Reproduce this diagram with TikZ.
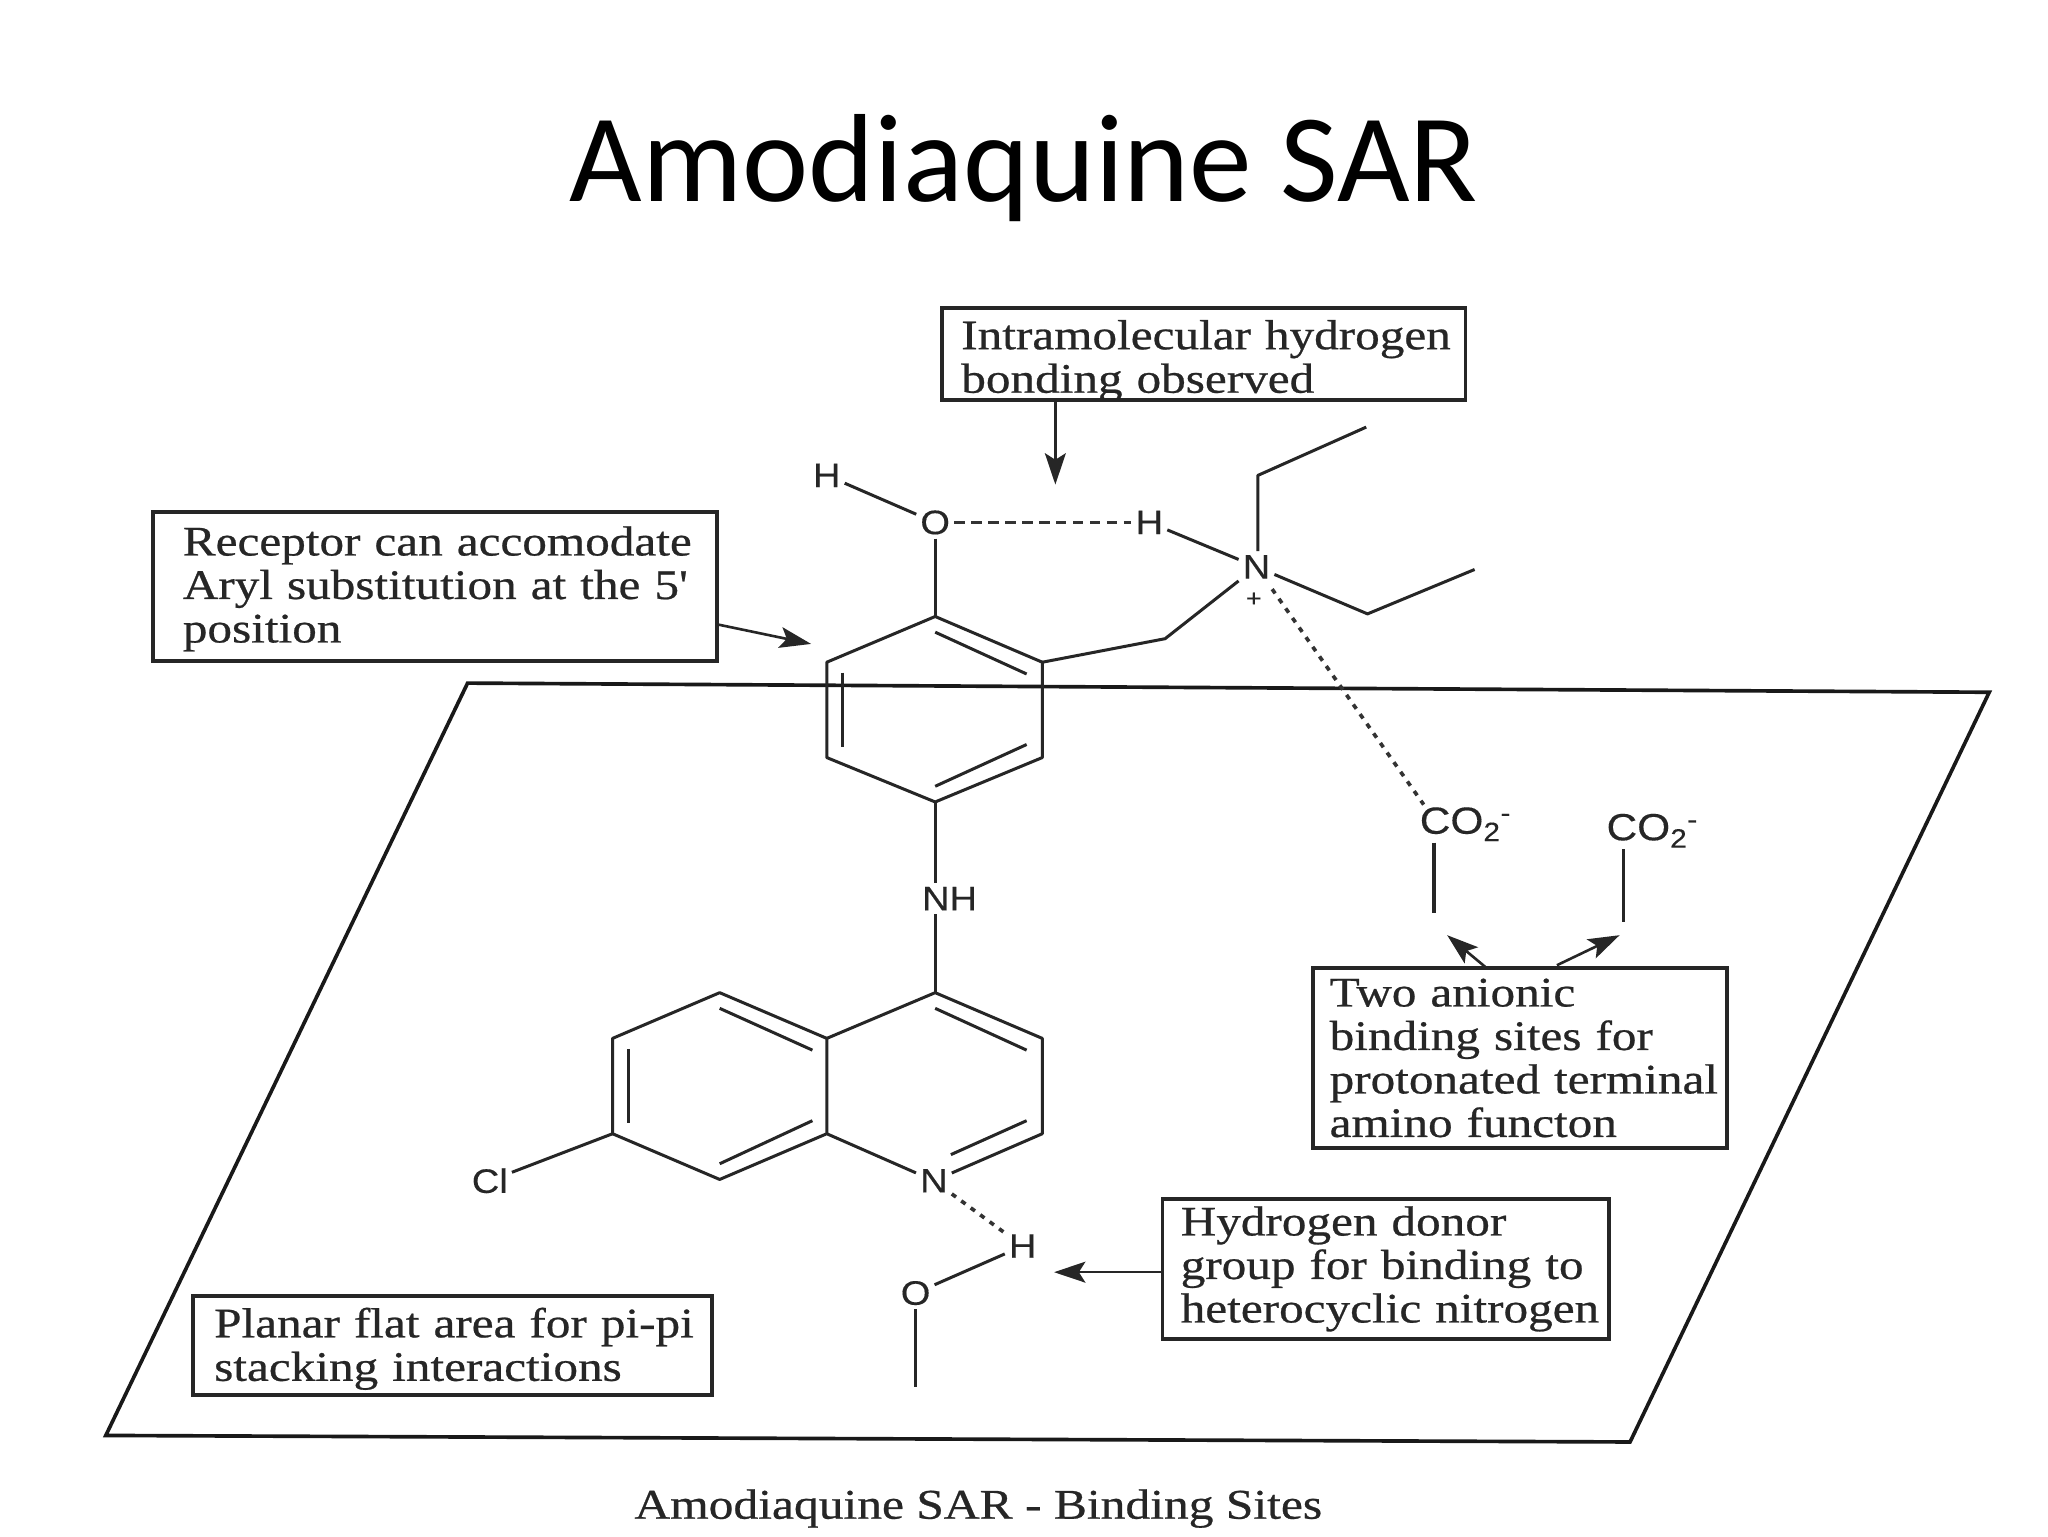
\documentclass[tikz,border=0pt]{standalone}
\usepackage{fontspec}
\usetikzlibrary{arrows.meta,calc}
\setmainfont{Liberation Serif}
\newfontfamily\titlefont{Carlito}
\newfontfamily\boxfont[FakeStretch=1.17,FakeBold=0.6]{Liberation Serif}
\newfontfamily\atomfont[FakeStretch=1.12,FakeBold=0.3]{Liberation Sans}
\newcommand{\firstline}[2]{\hspace*{#1pt}\rule{0pt}{#2pt}}
\newcommand{\ind}[1]{\hspace*{#1pt}}
\tikzset{
  x=1pt,y=-1pt,
  bond/.style={line width=2.3pt,draw=black!85},
  hbond/.style={line width=3pt,draw=black!80,dash pattern=on 8pt off 5pt},
  dotbond/.style={line width=2.8pt,draw=black!80,dash pattern=on 4pt off 5pt},
  plane/.style={line width=2.8pt,draw=black!90,line join=miter},
  callout/.style={draw=black!85,line width=2.8pt,rectangle,align=left,anchor=center,inner ysep=0pt,inner xsep=0pt,
    font=\boxfont\fontsize{32.2}{33.3}\selectfont,text=black!85},
  pointer/.style={line width=2pt,draw=black!85,-{Stealth[length=24pt,width=16pt,inset=5pt]}},
  atom/.style={font=\atomfont\fontsize{26}{28}\selectfont,text=black!85,inner sep=3pt},
}
\begin{document}
\begin{tikzpicture}
\useasboundingbox[fill=white] (0,0) rectangle (1568,1176);
\node[font=\titlefont\fontsize{96}{110}\selectfont,text=black] (title) at (784,129) {Amodiaquine SAR};

% plane
\coordinate (pa) at (358,523);
\coordinate (pb) at (1523,530);
\coordinate (pc) at (1248,1104);
\coordinate (pd) at (81,1099);
\draw[plane] (pa) -- (pb) -- (pc) -- (pd) -- cycle;

% callouts
\node[callout,inner ysep=-3pt,minimum width=401pt,minimum height=70pt,text width=380pt] (bI) at (921.5,271) {\firstline{4.5}{33}Intramolecular hydrogen\\\ind{4.5}bonding observed};
\node[callout,minimum width=432pt,minimum height=114pt,text width=400pt] (bR) at (333,449) {\firstline{7}{26}Receptor can accomodate\\\ind{7}Aryl substitution at the 5'\\\ind{7}position};
\node[callout,minimum width=317pt,minimum height=138pt,text width=310pt] (bT) at (1163.5,810) {\firstline{9.5}{21}Two anionic\\\ind{9.5}binding sites for\\\ind{9.5}protonated terminal\\\ind{9.5}amino functon};
\node[callout,minimum width=342pt,minimum height=107pt,text width=334pt] (bH) at (1061,971.5) {\firstline{10}{22}Hydrogen donor\\\ind{10}group for binding to\\\ind{10}heterocyclic nitrogen};
\node[callout,minimum width=397pt,minimum height=76pt,text width=380pt] (bP) at (346.5,1030) {\firstline{7.5}{28}Planar flat area for pi-pi\\\ind{7.5}stacking interactions};

% atoms
\node[atom] (H1) at (633,364) {H};
\node[atom] (O1) at (716,400) {O};
\node[atom] (H2) at (880,400) {H};
\node[atom] (N1) at (962,434) {N};
\node[atom,font=\atomfont\fontsize{18}{20}\selectfont,inner sep=0pt] (plus) at (960,459) {+};
\node[atom] (NH) at (727,688) {NH};
\node[atom] (N2) at (715,904) {N};
\node[atom] (Cl) at (375,904) {Cl};
\node[atom] (H3) at (783,954) {H};
\node[atom] (O2) at (701,990) {O};
\node[atom,font=\atomfont\fontsize{29}{30}\selectfont,inner sep=1pt] (C1) at (1122,631) {CO\textsubscript{2}\textsuperscript{-}};
\node[atom,font=\atomfont\fontsize{29}{30}\selectfont,inner sep=1pt] (C2) at (1265,636) {CO\textsubscript{2}\textsuperscript{-}};

% vertices
\coordinate (a1) at (716,472);
\coordinate (a2) at (798,507);
\coordinate (a3) at (798,580);
\coordinate (a4) at (716,614);
\coordinate (a5) at (633,580);
\coordinate (a6) at (633,507);
\coordinate (ch) at (892,489);
\coordinate (u1) at (963,364);
\coordinate (u2) at (1046,327);
\coordinate (r1) at (1047,470);
\coordinate (r2) at (1129,436);
\coordinate (q1) at (716,760);
\coordinate (q2) at (798,795);
\coordinate (q3) at (798,868);
\coordinate (q5) at (633,868);
\coordinate (q6) at (633,795);
\coordinate (q7) at (551,760);
\coordinate (q8) at (469,795);
\coordinate (q9) at (469,868);
\coordinate (q10) at (551,903);
\coordinate (oe) at (701,1062);
\coordinate (c1e) at (1098,699);
\coordinate (c2e) at (1243,706);
\coordinate (dotend) at (1090,616);

% inner lines of double bonds
\coordinate (i1s) at (716,484); \coordinate (i1e) at (786,516);
\coordinate (i2s) at (645,515); \coordinate (i2e) at (645,572);
\coordinate (i3s) at (716,602); \coordinate (i3e) at (786,570);
\coordinate (i4s) at (716,772); \coordinate (i4e) at (786,804);
\coordinate (i5s) at (786,858); \coordinate (i5e) at (728,884);
\coordinate (i6s) at (551,772); \coordinate (i6e) at (622,804);
\coordinate (i7s) at (481,803); \coordinate (i7e) at (481,860);
\coordinate (i8s) at (551,891); \coordinate (i8e) at (622,858);

% upper ring
\draw[bond,line join=round] (a1) -- (a2) -- (a3) -- (a4) -- (a5) -- (a6) -- cycle;
\draw[bond] (i1s) -- (i1e);
\draw[bond] (i2s) -- (i2e);
\draw[bond] (i3s) -- (i3e);
\draw[bond] (O1) -- (a1);
\draw[bond] (H1) -- (O1);
\draw[hbond] (O1) -- (H2);
\draw[bond] (H2) -- (N1);
\draw[bond,line join=round] (a2) -- (ch) -- (N1);
\draw[bond,line join=round] (N1.north -| u1) -- (u1) -- (u2);
\draw[bond,line join=round] (N1) -- (r1) -- (r2);
\draw[dotbond,shorten <=6pt] (N1) -- (dotend);

\draw[bond] (a4) -- (NH.north -| a4);
\draw[bond] (NH.south -| q1) -- (q1);

% quinoline
\draw[bond,line join=round] (q6) -- (q1) -- (q2) -- (q3) -- (N2);
\draw[bond,line join=round] (N2) -- (q5) -- (q6) -- (q7) -- (q8) -- (q9) -- (q10) -- (q5);
\draw[bond] (i4s) -- (i4e);
\draw[bond] (i5s) -- (i5e);
\draw[bond] (i6s) -- (i6e);
\draw[bond] (i7s) -- (i7e);
\draw[bond] (i8s) -- (i8e);
\draw[bond] (Cl) -- (q9);

% lower fragment
\draw[dotbond] (N2) -- (H3);
\draw[bond] (H3) -- (O2);
\draw[bond] (O2) -- (oe);

% carboxylates
\draw[bond,line width=3pt] (C1.south -| c1e) -- (c1e);
\draw[bond] (C2.south -| c2e) -- (c2e);

% pointers
\coordinate (t1) at (808,371);
\coordinate (t2) at (621,493);
\coordinate (t3) at (1108,716);
\coordinate (t4) at (1240,716);
\coordinate (t5) at (807,974);
\coordinate (s2) at (549,478);
\coordinate (s3) at (1138,741);
\coordinate (s4) at (1192,739);
\draw[pointer] (bI.south -| t1) -- (t1);
\draw[pointer] (s2) -- (t2);
\draw[pointer] (s3) -- (t3);
\draw[pointer] (s4) -- (t4);
\draw[pointer] (bH.west |- t5) -- (t5);

\node[font=\boxfont\fontsize{32.4}{33}\selectfont,text=black!85] (cap) at (749,1155) {Amodiaquine SAR - Binding Sites};
\end{tikzpicture}
\end{document}
